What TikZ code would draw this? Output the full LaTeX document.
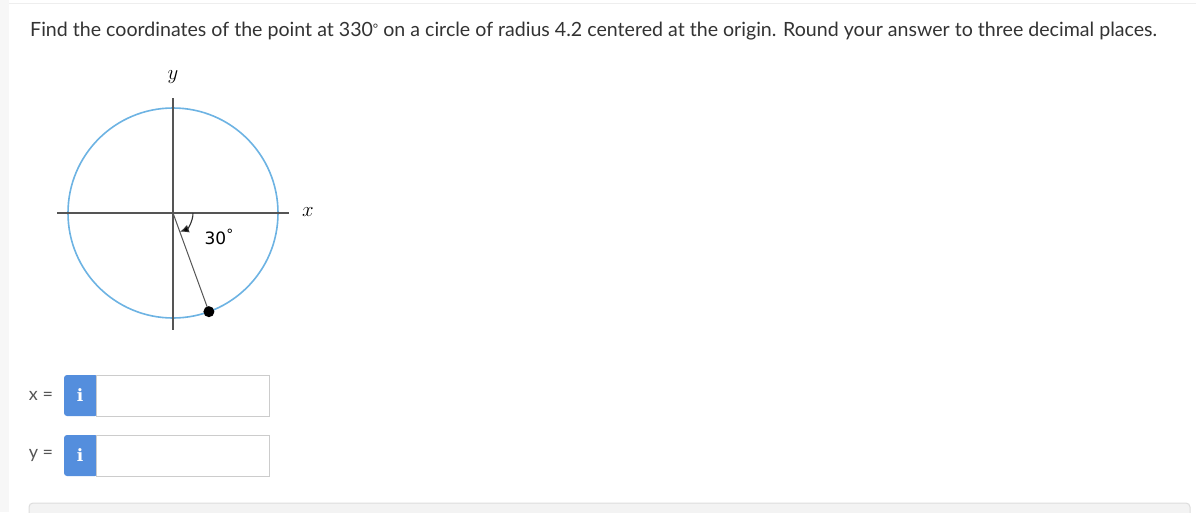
\documentclass[tikz,border=0pt]{standalone}
\usepackage{fontspec}
\setmainfont{Lato}
\newfontfamily\dejavu{DejaVu Sans}
\newfontfamily\dvserif{DejaVu Serif}
\usetikzlibrary{arrows.meta,calc}
\definecolor{stripc}{HTML}{F7F7F7}
\definecolor{toplinec}{HTML}{EEEEEE}
\definecolor{titlec}{HTML}{333333}
\definecolor{circc}{HTML}{6DB3E3}
\definecolor{axisc}{HTML}{555555}
\definecolor{infoc}{HTML}{548EDD}
\definecolor{boxc}{HTML}{CCCCCC}
\definecolor{labc}{HTML}{555555}
\definecolor{panelc}{HTML}{F3F3F3}
\definecolor{paneld}{HTML}{DDDDDD}
\begin{document}
\begin{tikzpicture}[x=1pt,y=-1pt,
  axisline/.style={draw=axisc,line width=1.3pt},
  circline/.style={draw=circc,line width=1.6pt},
  infobtn/.style={fill=infoc,rounded corners=3pt},
  inbox/.style={draw=boxc,line width=1pt,fill=white},
  lab/.style={text=labc,font=\fontsize{18}{20}\selectfont,inner sep=0pt},
  ilab/.style={text=white,font=\dvserif\bfseries\fontsize{17}{18}\selectfont,inner sep=0pt}]
\useasboundingbox (0,0) rectangle (1196,512);
\fill[white] (0,0) rectangle (1196,512);
\fill[stripc] (0,0) rectangle (9,512);
\coordinate (tl1) at (9,3);
\coordinate (tl2) at (1196,3);
\draw[toplinec,line width=1pt] (tl1) -- (tl2);
\node[anchor=base west,inner sep=0pt,text=titlec,font=\fontsize{19.6}{22}\selectfont] (title) at (30,36)
  {Find the coordinates of the point at 330\raisebox{0.15em}{\fontsize{13}{14}\selectfont°} on a circle of radius 4.2 centered at the origin. Round your answer to three decimal places.};
% diagram
\coordinate (O) at (173,213);
\coordinate (xl) at (57,213);
\coordinate (xr) at (289,213);
\coordinate (yt) at (173,98);
\coordinate (yb) at (173,330);
\draw[circline] (O) circle (105);
\draw[axisline] (xl) -- (xr);
\draw[axisline] (yt) -- (yb);
\coordinate (P) at ($(O)+(70:105)$);
\draw[axisc,line width=1pt] (O) -- (P);
\fill[black] (P) circle (5.5);
\coordinate (A0) at ($(O)+(20,0)$);
\draw[black!80,line width=1.1pt,-{Latex[length=9pt,width=8pt,fill=black]}] (A0) arc (0:70:20);
\node[font=\dejavu\fontsize{17}{18}\selectfont,inner sep=0pt] (ang) at (219,237) {30\raisebox{0.25em}{\fontsize{14}{14}\selectfont°}};
\node[font=\fontsize{20}{22}\selectfont,inner sep=0pt] (ylab) at (173,77) {$y$};
\node[font=\fontsize{20}{22}\selectfont,inner sep=0pt] (xlab) at (308,212) {$x$};
% inputs
\fill[infobtn] (64,375) rectangle (98,416);
\draw[inbox] (96,375) rectangle (269,416);
\node[ilab] (i1) at (80,395.5) {i};
\node[lab] (xeq) at (41,395.5) {x =};
\fill[infobtn] (64,435) rectangle (98,476);
\draw[inbox] (96,435) rectangle (269,476);
\node[ilab] (i2) at (80,455.5) {i};
\node[lab] (yeq) at (41,455.5) {y =};
% bottom panel
\draw[fill=panelc,draw=paneld,line width=1pt,rounded corners=4pt] (29,520) rectangle (1190,503);
\end{tikzpicture}
\end{document}
